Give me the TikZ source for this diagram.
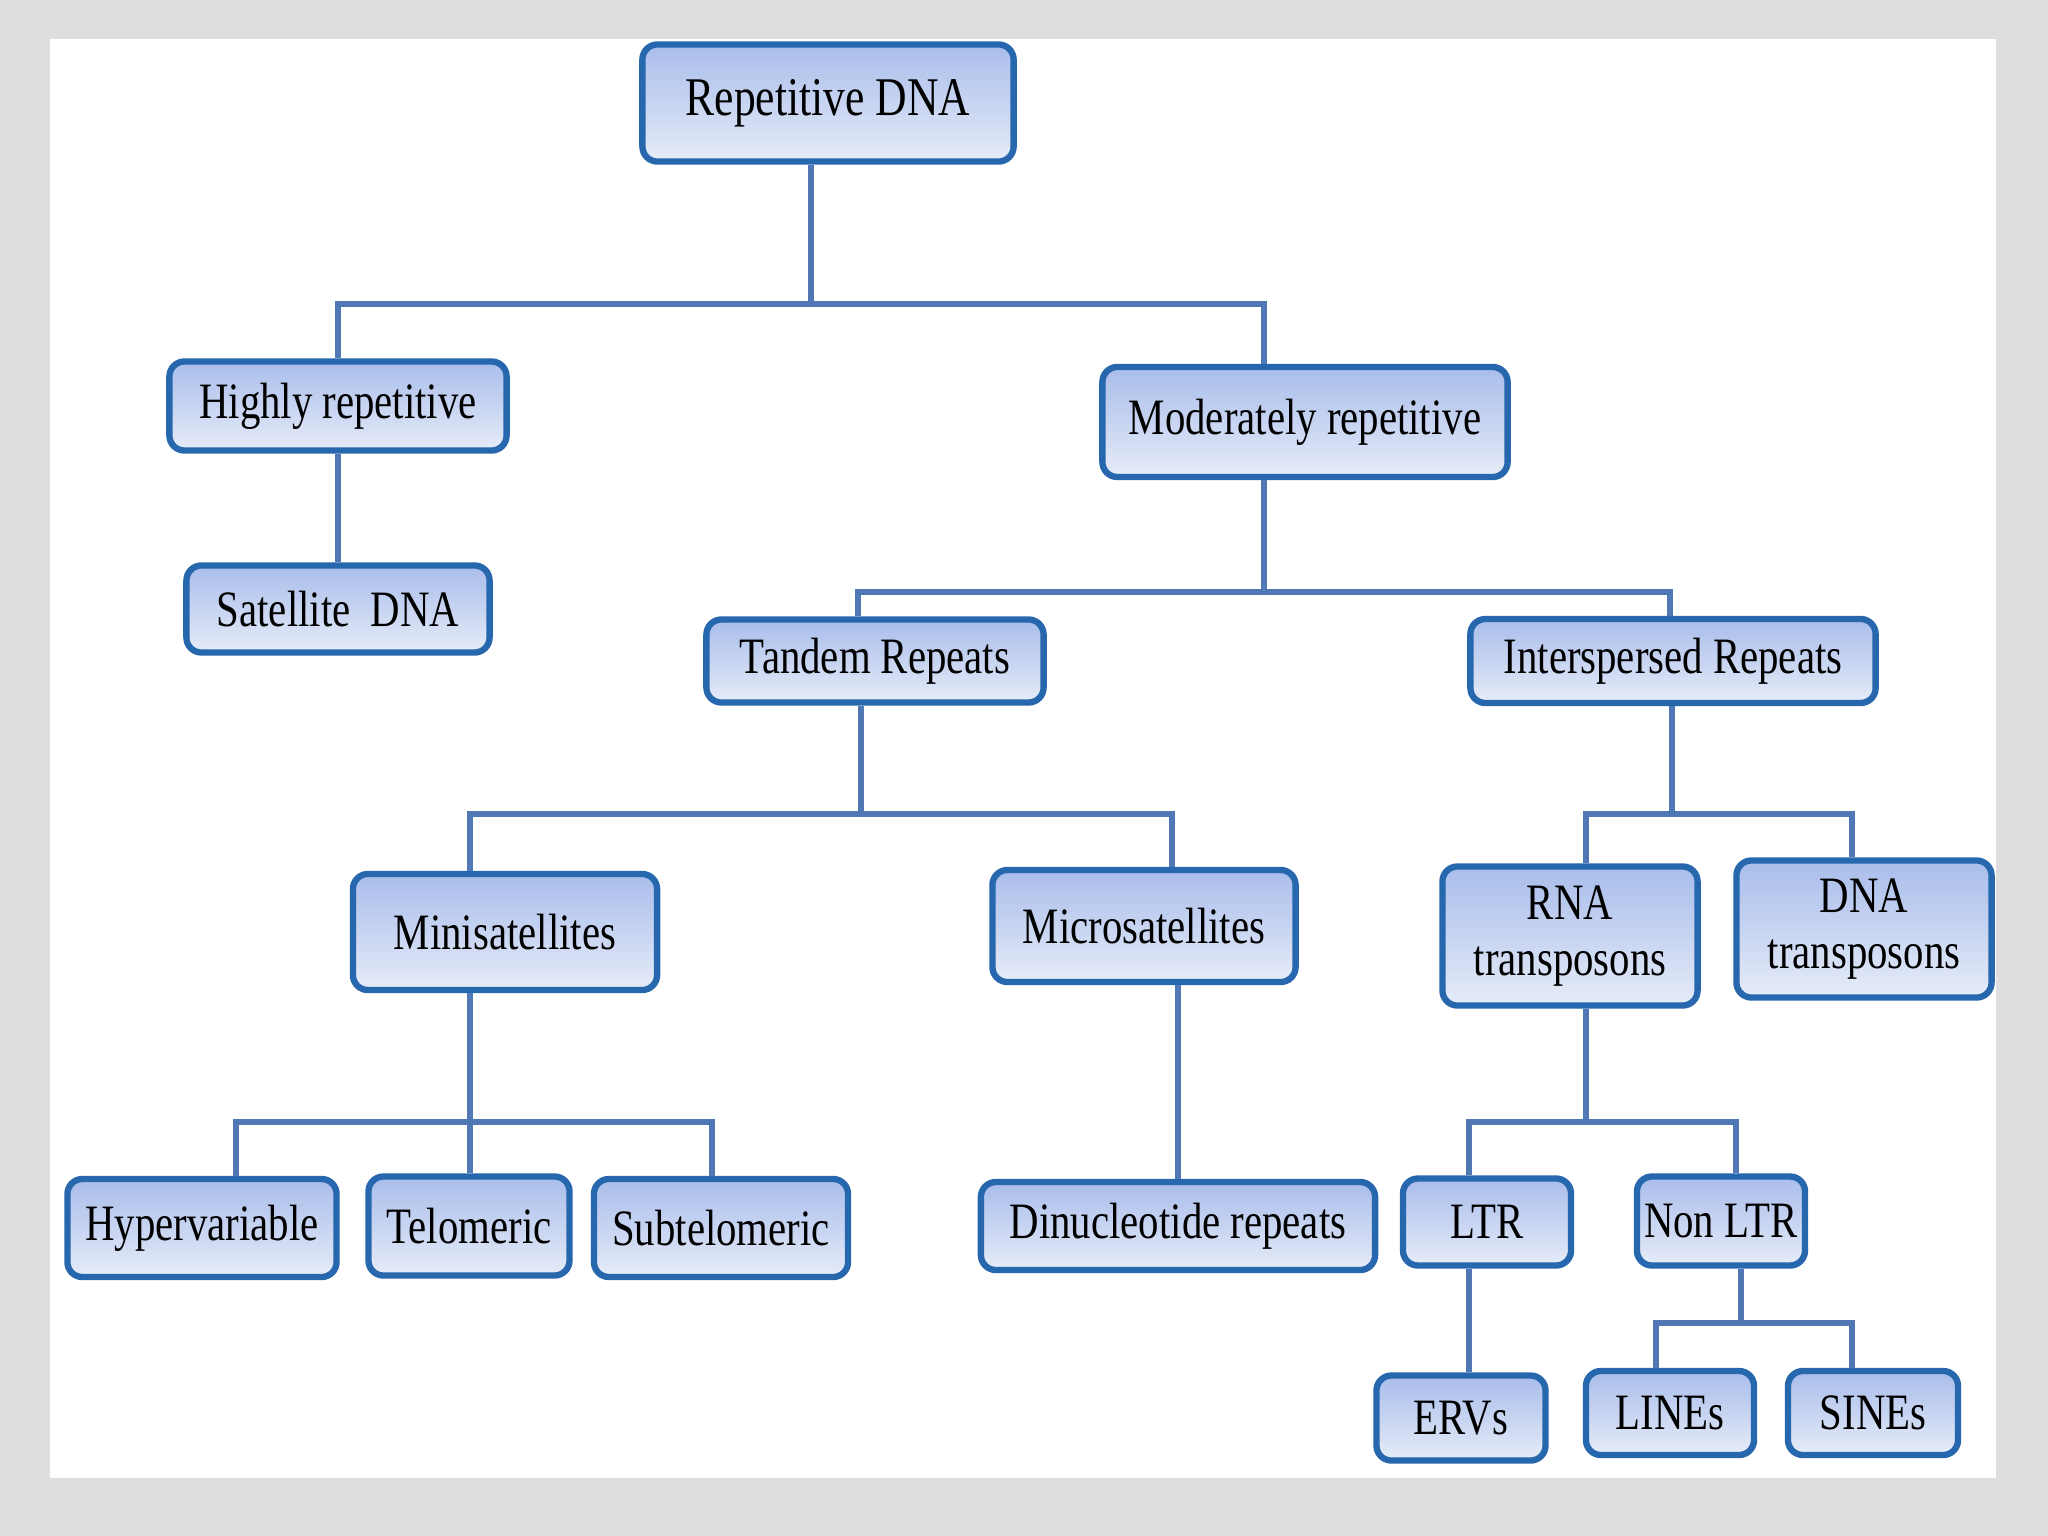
\documentclass[tikz,border=0pt]{standalone}
\usepackage{fontspec}
\setmainfont[FakeStretch=0.8]{Liberation Serif}
\definecolor{bordc}{HTML}{2667AD}
\definecolor{connc}{HTML}{4F78B4}
\definecolor{topc}{HTML}{A9BDEB}
\definecolor{botc}{HTML}{E6ECF8}
\definecolor{bgc}{HTML}{DEDEDE}
\tikzset{
  box/.style={draw=bordc, line width=1.8pt, rounded corners=0.15cm,
    top color=topc, bottom color=botc, inner sep=2pt, align=center,
    font=\fontsize{14.5}{16}\selectfont, text=black},
  conn/.style={draw=connc, line width=1.8pt},
}
\begin{document}
\begin{tikzpicture}[x=0.01cm, y=-0.01cm]
\useasboundingbox (0,0) rectangle (2048,1536);
\fill[bgc] (0,0) rectangle (2048,1536);
\fill[white] (50,39) rectangle (1996,1478);

% nodes
\node[box, minimum width=3.71cm, minimum height=1.17cm, font=\fontsize{15.5}{17}\selectfont] (rep) at (828,103) {Repetitive DNA};
\node[box, minimum width=3.37cm, minimum height=0.89cm] (hr) at (338,406) {Highly repetitive};
\node[box, minimum width=3.03cm, minimum height=0.87cm] (sat) at (338,609) {Satellite\ \ DNA};
\node[box, minimum width=4.05cm, minimum height=1.10cm] (mod) at (1305,422) {Moderately repetitive};
\node[box, minimum width=3.37cm, minimum height=0.83cm] (tan) at (875,661) {Tandem Repeats};
\node[box, minimum width=4.05cm, minimum height=0.84cm] (int) at (1673,661) {Interspersed Repeats};
\node[box, minimum width=3.04cm, minimum height=1.16cm] (mini) at (505,932) {Minisatellites};
\node[box, minimum width=3.03cm, minimum height=1.12cm] (micro) at (1144,926) {Microsatellites};
\node[box, minimum width=2.55cm, minimum height=1.39cm] (rna) at (1570,936) {RNA\\transposons};
\node[box, minimum width=2.55cm, minimum height=1.37cm] (dna) at (1864,929) {DNA\\transposons};
\node[box, minimum width=2.69cm, minimum height=0.98cm] (hyp) at (202,1228) {Hypervariable};
\node[box, minimum width=2.01cm, minimum height=0.99cm] (tel) at (469,1226) {Telomeric};
\node[box, minimum width=2.54cm, minimum height=0.98cm] (sub) at (721,1228) {Subtelomeric};
\node[box, minimum width=3.94cm, minimum height=0.88cm] (din) at (1178,1226) {Dinucleotide repeats};
\node[box, minimum width=1.68cm, minimum height=0.87cm] (ltr) at (1487,1222) {LTR};
\node[box, minimum width=1.68cm, minimum height=0.89cm] (nltr) at (1721,1221) {Non LTR};
\node[box, minimum width=1.69cm, minimum height=0.85cm] (erv) at (1461,1418) {ERVs};
\node[box, minimum width=1.68cm, minimum height=0.84cm] (lines) at (1670,1413) {LINEs};
\node[box, minimum width=1.70cm, minimum height=0.84cm] (sines) at (1873,1413) {SINEs};

% connectors
\draw[conn] (rep.south -| 811,0) -- (811,304);
\draw[conn] (hr.north -| 338,0) |- (1264,304) -- (mod.north -| 1264,0);
\draw[conn] (hr.south -| 338,0) -- (sat.north -| 338,0);

\draw[conn] (mod.south -| 1264,0) -- (1264,592);
\draw[conn] (tan.north -| 858,0) |- (1670,592) -- (int.north -| 1670,0);

\draw[conn] (tan.south -| 861,0) -- (861,814);
\draw[conn] (mini.north -| 470,0) |- (1172,814) -- (micro.north -| 1172,0);

\draw[conn] (int.south -| 1672,0) -- (1672,814);
\draw[conn] (rna.north -| 1586,0) |- (1852,814) -- (dna.north -| 1852,0);

\draw[conn] (mini.south -| 470,0) -- (tel.north -| 470,0);
\draw[conn] (hyp.north -| 236,0) |- (712,1122) -- (sub.north -| 712,0);

\draw[conn] (micro.south -| 1178,0) -- (din.north -| 1178,0);

\draw[conn] (rna.south -| 1586,0) -- (1586,1122);
\draw[conn] (ltr.north -| 1469,0) |- (1736,1122) -- (nltr.north -| 1736,0);

\draw[conn] (ltr.south -| 1469,0) -- (erv.north -| 1469,0);

\draw[conn] (nltr.south -| 1741,0) -- (1741,1323);
\draw[conn] (lines.north -| 1656,0) |- (1852,1323) -- (sines.north -| 1852,0);
\end{tikzpicture}
\end{document}
